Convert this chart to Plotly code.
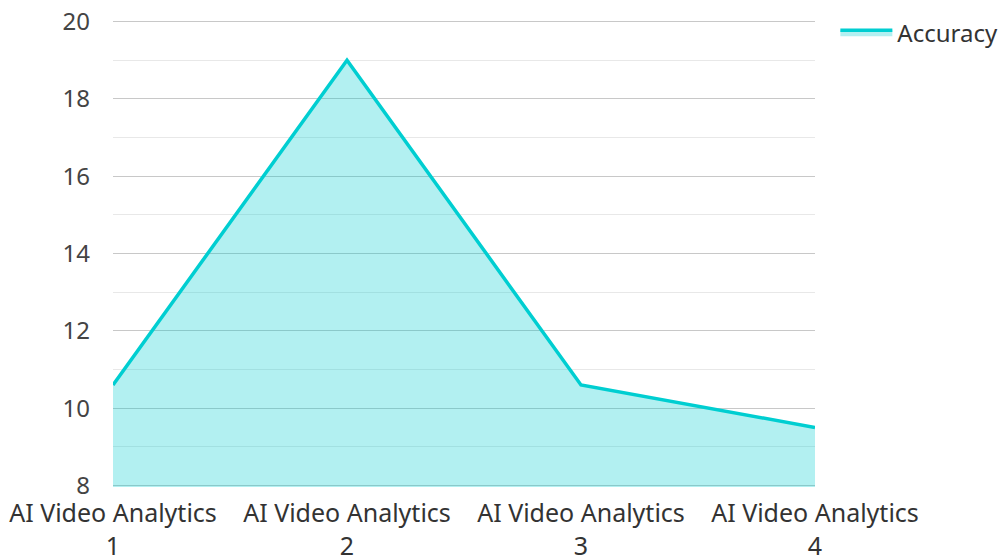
import plotly.graph_objects as go

categories = ["AI Video Analytics<br>1", "AI Video Analytics<br>2", "AI Video Analytics<br>3", "AI Video Analytics<br>4"]
accuracy = [10.6, 19.0, 10.6, 9.5]
series_name = "Accuracy"

fig = go.Figure()
fig.add_trace(go.Scatter(
    x=categories, y=accuracy, name=series_name, mode="lines",
    line=dict(color="#00CED1", width=3.5),
    fill="tozeroy", fillcolor="rgba(0,206,209,0.30)",
))

fig.update_layout(
    width=1005, height=558,
    margin=dict(l=113, r=190, t=20, b=71, autoexpand=False),
    paper_bgcolor="white", plot_bgcolor="white",
    font=dict(family="Noto Sans", size=24, color="#333333"),
    showlegend=True,
    legend=dict(x=1.029, y=1.021, xanchor="left", yanchor="top", itemwidth=52,
                font=dict(size=24, color="#333333"), bgcolor="rgba(0,0,0,0)"),
    xaxis=dict(type="category", range=[0, 3], showgrid=False, zeroline=False,
               showline=False, ticks="", automargin=False, ticklabelstandoff=9,
               tickfont=dict(size=25, color="#333333")),
    yaxis=dict(range=[7.96, 20.04], dtick=2, tick0=8, showgrid=True, gridcolor="#c8c8c8",
               gridwidth=1, zeroline=False, showline=False, ticks="", automargin=False,
               ticklabelstandoff=22,
               tickfont=dict(size=24, color="#444444"),
               minor=dict(dtick=1, tick0=8, showgrid=True, gridcolor="#e8e8e8", gridwidth=1)),
)

fig.write_html("out.html", config={"displayModeBar": False},
               post_script="document.body.style.margin='0';document.body.style.padding='0';")
